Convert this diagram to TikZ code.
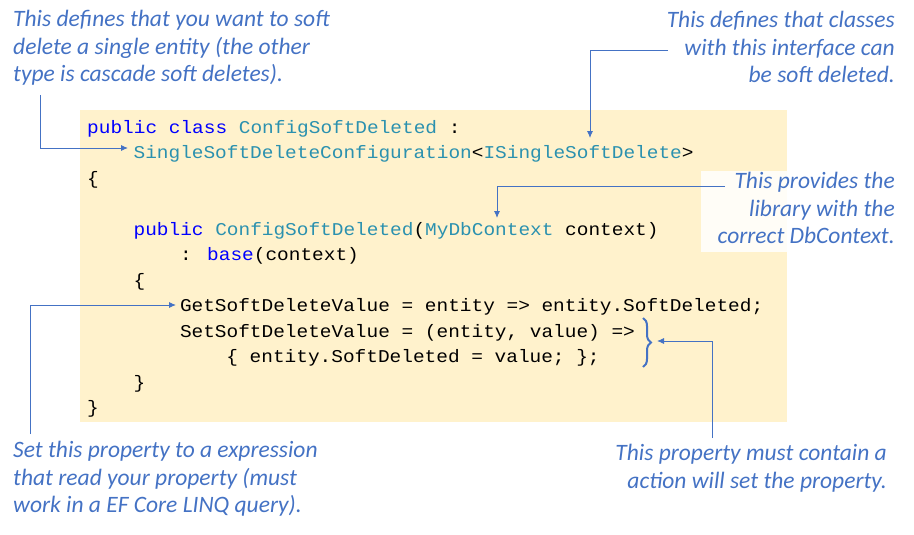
\documentclass[tikz,border=0pt]{standalone}
\usepackage{fontspec}
\setmainfont{Carlito}
\newfontfamily\codefont[FakeStretch=1.08]{Liberation Mono}
\usetikzlibrary{decorations.pathreplacing,arrows.meta}
\definecolor{kw}{HTML}{0000FF}
\definecolor{ty}{HTML}{2B91AF}
\definecolor{cmtc}{HTML}{4472C4}
\definecolor{bx}{HTML}{FFF2CC}
\begin{document}
\begin{tikzpicture}[x=1pt,y=-1pt,
  code/.style={anchor=base west,inner sep=0,font=\codefont\fontsize{18}{22}\selectfont},
  cmt/.style={inner sep=0,text=cmtc,font=\itshape\fontsize{23.5}{27.5}\selectfont},
  arr/.style={draw=cmtc,line width=0.9pt,-{Latex[length=7pt,width=6pt]}}]
\useasboundingbox (0,0) rectangle (914,535);
\fill[bx] (80,110) rectangle (787,422);
\fill[white,opacity=0.85] (701,171) rectangle (900,252);
\node[code] (l0) at (87,133) {\textcolor{kw}{public class} \textcolor{ty}{ConfigSoftDeleted} :};
\node[code] (l1) at (133.4,158.5) {\textcolor{ty}{SingleSoftDeleteConfiguration}<\textcolor{ty}{ISingleSoftDelete}>};
\node[code] (l2) at (87,184) {\{};
\node[code] (l4) at (133.4,235) {\textcolor{kw}{public} \textcolor{ty}{ConfigSoftDeleted}(\textcolor{ty}{MyDbContext} context)};
\node[code] (l5) at (179.8,260.5) {: \textcolor{kw}{base}(context)};
\node[code] (l6) at (133.4,286) {\{};
\node[code] (l7) at (179.8,311.5) {GetSoftDeleteValue = entity => entity.SoftDeleted;};
\node[code] (l8) at (179.8,337) {SetSoftDeleteValue = (entity, value) =>};
\node[code] (l9) at (226.2,362.5) {\{ entity.SoftDeleted = value; \};};
\node[code] (l10) at (133.4,388) {\}};
\node[code] (l11) at (87,413.5) {\}};
% comments
\node[cmt,anchor=north west,align=left] (c1) at (13,10) {This defines that you want to soft\\delete a single entity (the other\\type is cascade soft deletes).};
\node[cmt,anchor=north east,align=right] (c2) at (895,11) {This defines that classes\\with this interface can\\be soft deleted.};
\node[cmt,anchor=north east,align=right] (c3) at (895,172) {This provides the\\library with the\\correct DbContext.};
\node[cmt,anchor=north west,align=left] (c4) at (13,441) {Set this property to a expression\\that read your property (must\\work in a EF Core LINQ query).};
\node[cmt,anchor=north east,align=right] (c5) at (887,444) {This property must contain a\\action will set the property.};
% connectors
\coordinate (a1s) at (40,95); \coordinate (a1e) at (128,148);
\draw[arr] (a1s) |- (a1e);
\coordinate (a2s) at (668,50); \coordinate (a2e) at (590,138);
\draw[arr] (a2s) -| (a2e);
\coordinate (a3s) at (725,186); \coordinate (a3e) at (497,218);
\draw[arr] (a3s) -| (a3e);
\coordinate (a4s) at (30,434); \coordinate (a4e) at (176,305);
\draw[arr] (a4s) |- (a4e);
\coordinate (a5s) at (712,438); \coordinate (a5e) at (657,341);
\draw[arr] (a5s) |- (a5e);
\coordinate (b1) at (643,318); \coordinate (b2) at (643,367);
\draw[cmtc,line width=2pt,decorate,decoration={brace,amplitude=8pt}] (b1) -- (b2);
\end{tikzpicture}
\end{document}
